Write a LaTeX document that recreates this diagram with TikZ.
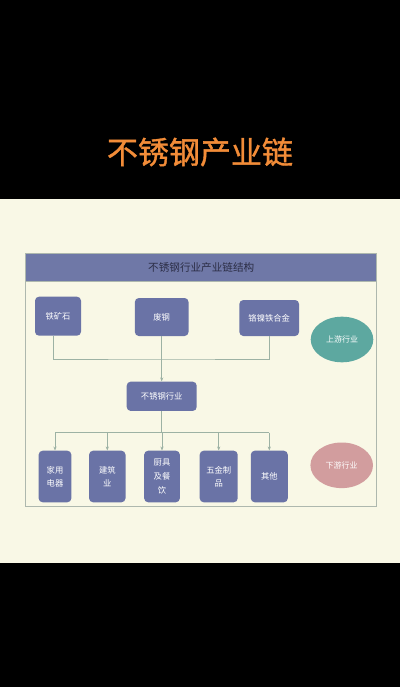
\documentclass[tikz,border=0pt]{standalone}
\usepackage{fontspec}
\newfontfamily\cjk{Noto Sans CJK SC}
\newfontfamily\cjkt[FakeBold=1.2]{Noto Sans CJK SC}
\usetikzlibrary{shapes.geometric,arrows.meta}
\definecolor{cream}{HTML}{F9F8E6}
\definecolor{boxc}{HTML}{6A73A6}
\definecolor{headc}{HTML}{6F78A7}
\definecolor{headtxt}{HTML}{2B2D45}
\definecolor{linec}{HTML}{9DB2A4}
\definecolor{framec}{HTML}{AEB8AE}
\definecolor{titlec}{HTML}{F28C38}
\definecolor{tealc}{HTML}{5DA8A0}
\definecolor{pinkc}{HTML}{D29D9E}
\tikzset{
  boxn/.style={rectangle, rounded corners=4pt, fill=boxc, text=white, inner sep=0pt, align=center,
    font=\cjk\fontsize{8.3pt}{12.7pt}\selectfont},
  ell/.style={ellipse, inner sep=0pt, minimum width=62.6pt, minimum height=45.6pt, text=white,
    font=\cjk\fontsize{8pt}{10pt}\selectfont},
  conn/.style={draw=linec, line width=0.7pt},
  arr/.style={conn, -{Stealth[length=4pt,width=3.2pt]}}
}
\begin{document}
\begin{tikzpicture}[x=1pt,y=-1pt]
\fill[black] (0,0) rectangle (400,687);
\useasboundingbox (0,0) rectangle (400,687);
\fill[cream] (0,199) rectangle (400,563);
\node[text=titlec, font=\cjkt\fontsize{31pt}{34pt}\selectfont] (title) at (200,152) {不锈钢产业链};
% frame
\draw[framec, line width=0.8pt] (25.7,253.3) rectangle (376.7,506.7);
\draw[framec, fill=headc, line width=0.8pt] (25.7,253.3) rectangle (376.7,281.7);
\node[text=headtxt, font=\cjk\fontsize{10.6pt}{12pt}\selectfont] (head) at (201.2,267.5) {不锈钢行业产业链结构};
% upstream
\node[boxn, minimum width=46pt, minimum height=39pt] (tk) at (58,316.2) {铁矿石};
\node[boxn, minimum width=53.7pt, minimum height=38pt] (fg) at (161.7,317) {废钢};
\node[boxn, minimum width=59.7pt, minimum height=36pt] (gn) at (269.2,318) {铬镍铁合金};
\node[boxn, minimum width=70pt, minimum height=29.3pt] (hy) at (161.7,396.3) {不锈钢行业};
% downstream
\node[boxn, minimum width=32.7pt, minimum height=51.6pt] (b1) at (55,476.5) {家用\\电器};
\node[boxn, minimum width=36.4pt, minimum height=51.6pt] (b2) at (107.3,476.5) {建筑\\业};
\node[boxn, minimum width=35.7pt, minimum height=51.6pt, font=\cjk\fontsize{8.3pt}{14pt}\selectfont] (b3) at (162,476.5) {厨具\\及餐\\饮};
\node[boxn, minimum width=38pt, minimum height=51.6pt] (b4) at (218.7,476.5) {五金制\\品};
\node[boxn, minimum width=37pt, minimum height=51.6pt] (b5) at (269.3,476.5) {其他};
% ellipses
\node[ell, fill=tealc] (up) at (342,339.5) {上游行业};
\node[ell, fill=pinkc] (down) at (341.7,465.3) {下游行业};
% connectors
\coordinate (u) at (161.7,359);
\draw[conn] ([xshift=-4.3pt]tk.south) |- (u) -| (gn.south);
\draw[arr] (fg.south) -- (hy.north);
\coordinate (d) at (161.7,432.7);
\draw[conn] (hy.south) -- (d);
\draw[conn] (b1.north |- d) -- (b5.north |- d);
\foreach \b in {b1,b2,b3,b4,b5} {
  \draw[arr] (\b.north |- d) -- (\b.north);
}
\end{tikzpicture}
\end{document}
